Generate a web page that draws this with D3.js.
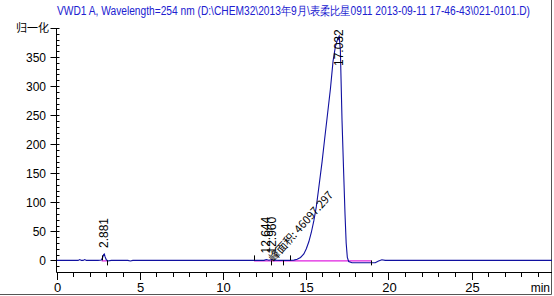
<!DOCTYPE html>
<html><head><meta charset="utf-8">
<script src="https://cdn.jsdelivr.net/npm/d3@7"></script>
<style>
body{margin:0;background:#fff;}
svg{display:block;}
text{font-family:"Liberation Sans Narrow","Arial Narrow","Liberation Sans",Arial,sans-serif;}
</style></head><body>
<svg id="c" width="554" height="296"></svg>
<script>
// ---- data ----
const titleText = "VWD1 A, Wavelength=254 nm (D:\\CHEM32\\2013年9月\\表柔比星0911 2013-09-11 17-46-43\\021-0101.D)";
const yLabelText = "归一化";
const xUnitText = "min";
const traceTime = [0, 1.3, 1.4, 1.5, 1.6, 1.7, 1.8, 2.5, 2.7, 2.78, 2.84, 2.88, 2.93, 3.0, 3.1, 3.3, 4.3, 4.45, 4.6,
  11.8, 12.5, 12.64, 12.8, 12.96, 13.1, 13.5, 14.0, 14.3, 14.5, 14.7, 14.9, 15.05, 15.2, 15.35, 15.5, 15.65, 15.8,
  16.0, 16.15, 16.3, 16.5, 16.66, 16.8, 16.95, 17.03, 17.1, 17.2, 17.3, 17.38, 17.45, 17.52, 17.6, 17.8,
  19.2, 19.4, 19.6, 19.8, 20.0, 30];
const traceSignal = [0, 0, 1.5, 0, 0, 1.5, 0, 0, 0.5, 5, 10, 11, 6, 1, -1, 0, 0, -1, 0,
  0, 0, 1.5, 0.3, 1.5, 0.3, 0, 0, 0.5, 2, 5, 11, 20, 32, 48, 68, 92, 125,
  170, 208, 245, 295, 343, 368, 382, 386, 362, 241, 150, 80, 30, 5, -2, -4,
  -4, -1, 1, 0, 0, 0];
const peakTimes = [2.881, 12.644, 12.960, 17.032];
const peakLabels = ["2.881", "12.644", "12.960", "17.032"];
const peakTops = [11, 1.5, 1.5, 386];
const areaLabel = "峰面积: 46097.297";
const baselineSegments = [[2.72, 3.04], [11.9, 18.95]];
const eventTimes = [2.72, 3.04, 11.9, 12.92, 13.64, 14.07, 18.95];
const eventDir = [1, -1, 1, -1, -1, 1, -1];
const xMajorTicks = [0, 5, 10, 15, 20, 25];
const yMajorTicks = [0, 50, 100, 150, 200, 250, 300, 350];

// ---- layout ----
const svg = d3.select("#c");
const x = d3.scaleLinear().domain([0, 30]).range([56.5, 554.5]);
const y = d3.scaleLinear().domain([-20, 400]).range([272, 28]);
const xEnd = 552;

// outer frame (right & bottom)
svg.append("path").attr("d", "M551.5,0 V294.5 H0").attr("fill", "none").attr("stroke", "#555").attr("stroke-width", 1);

// title
svg.append("text").attr("x", 57).attr("y", 14.5).attr("font-size", 12).attr("fill", "#2020d0")
  .attr("textLength", 473).attr("lengthAdjust", "spacingAndGlyphs").text(titleText);

// axes lines
svg.append("line").attr("x1", 56.5).attr("x2", 56.5).attr("y1", y(400)).attr("y2", 272).attr("stroke", "#000");
svg.append("line").attr("x1", 56.5).attr("x2", xEnd).attr("y1", 272.5).attr("y2", 272.5).attr("stroke", "#000");

// y ticks
const yMinor = d3.range(-20, 401, 10);
svg.append("g").selectAll("line").data(yMinor).join("line")
  .attr("x1", 56.5).attr("x2", 59.5)
  .attr("y1", d => Math.round(y(d)) + 0.5).attr("y2", d => Math.round(y(d)) + 0.5).attr("stroke", "#000");
svg.append("g").selectAll("line").data(yMajorTicks.concat([400])).join("line")
  .attr("x1", 50.5).attr("x2", 56.5)
  .attr("y1", d => Math.round(y(d)) + 0.5).attr("y2", d => Math.round(y(d)) + 0.5).attr("stroke", "#000");
svg.append("g").selectAll("text").data(yMajorTicks).join("text")
  .attr("x", 46).attr("y", d => y(d) + 4.5).attr("text-anchor", "end").attr("font-size", 12).text(d => d);
svg.append("text").attr("x", 49).attr("y", y(400) + 4).attr("text-anchor", "end").attr("font-size", 11)
  .style("font-family", "'Noto Sans CJK SC',sans-serif").text(yLabelText);

// x ticks
const xMinor = d3.range(0, 30, 1);
svg.append("g").selectAll("line").data(xMinor).join("line")
  .attr("x1", d => Math.round(x(d)) + 0.5).attr("x2", d => Math.round(x(d)) + 0.5)
  .attr("y1", 272.5).attr("y2", d => d % 5 === 0 ? 280 : 277).attr("stroke", "#000");
svg.append("g").selectAll("text").data(xMajorTicks).join("text")
  .attr("x", d => x(d) + 1).attr("y", 292).attr("text-anchor", "middle").attr("font-size", 13).text(d => d);
svg.append("text").attr("x", 550).attr("y", 292).attr("text-anchor", "end").attr("font-size", 12).text(xUnitText);

// clip
svg.append("clipPath").attr("id", "pc").append("rect").attr("x", 57).attr("y", 20).attr("width", xEnd - 57).attr("height", 252);

// integration baselines
svg.append("g").attr("clip-path", "url(#pc)").selectAll("line").data(baselineSegments).join("line")
  .attr("x1", d => x(d[0])).attr("x2", d => x(d[1])).attr("y1", y(0) + 0.5).attr("y2", y(0) + 0.5)
  .attr("stroke", "#e020e0").attr("stroke-width", 1.2);

// trace
const pts = traceTime.map((t, i) => [t, traceSignal[i]]);
svg.append("path").attr("clip-path", "url(#pc)").datum(pts)
  .attr("d", d3.line().x(d => x(d[0])).y(d => y(d[1])))
  .attr("fill", "none").attr("stroke", "#1010a0").attr("stroke-width", 1.1);

// event ticks
svg.append("g").selectAll("line").data(eventTimes).join("line")
  .attr("x1", d => Math.round(x(d)) + 0.5).attr("x2", d => Math.round(x(d)) + 0.5)
  .attr("y1", (d, i) => eventDir[i] > 0 ? y(0) - 5 : y(0))
  .attr("y2", (d, i) => eventDir[i] > 0 ? y(0) : y(0) + 5)
  .attr("stroke", "#000");

// peak labels
svg.append("g").selectAll("text").data(peakTimes).join("text")
  .attr("transform", (d, i) => `translate(${x(d) + 4},${Math.max(y(peakTops[i]) - 6, 66)}) rotate(-90)`)
  .attr("font-size", 12).text((d, i) => peakLabels[i]);

// area label (diagonal)
svg.append("text").attr("transform", `translate(${x(12.96) + 2},${y(0) + 2}) rotate(-48)`)
  .attr("font-size", 11).style("font-family", "'Noto Sans CJK SC',sans-serif")
  .attr("textLength", 90).attr("lengthAdjust", "spacingAndGlyphs").text(areaLabel);
</script>
</body></html>
